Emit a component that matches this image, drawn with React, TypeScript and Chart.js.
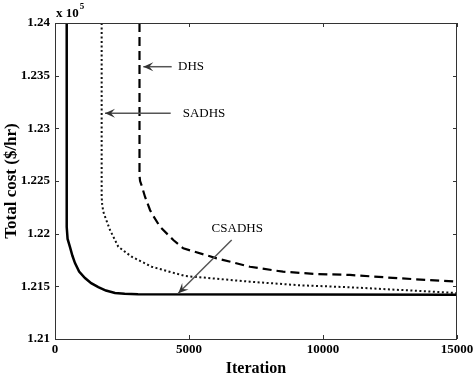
import React, { useEffect, useRef } from "react";
import { Chart, registerables } from "chart.js";
Chart.register(...registerables);

const FONT = "'Liberation Serif', 'DejaVu Serif', 'Times New Roman', serif";

// Iterations and total cost (x 10^5 $/hr)
const csadhsIter = [437, 437, 470, 560, 650, 746, 900, 1119, 1350, 1616, 1900, 2239, 2600, 3097, 15000];
const csadhsCost = [1.2400, 1.22063, 1.2195, 1.21873, 1.2179, 1.21721, 1.2164, 1.21579, 1.2153, 1.21493, 1.2146, 1.21437, 1.2143, 1.21424, 1.21420];

const sadhsIter = [1741, 1741, 1760, 1800, 1866, 2052, 2363, 2861, 3607, 4851, 5410, 7276, 9142, 11007, 15000];
const sadhsCost = [1.2400, 1.2235, 1.2228, 1.2221, 1.22161, 1.22035, 1.21876, 1.21781, 1.21686, 1.21598, 1.21586, 1.21544, 1.21510, 1.21491, 1.21437];

const dhsIter = [3153, 3153, 3175, 3235, 3358, 3545, 3608, 3918, 4414, 4787, 6034, 7276, 8507, 9765, 11007, 12873, 15000];
const dhsCost = [1.2400, 1.2255, 1.2250, 1.22455, 1.22351, 1.22225, 1.22193, 1.22066, 1.21940, 1.21861, 1.21766, 1.21686, 1.21639, 1.21617, 1.21608, 1.21576, 1.21544];

const xTicks = [0, 5000, 10000, 15000];
const yTicks = [1.21, 1.215, 1.22, 1.225, 1.23, 1.235, 1.24];

// annotations (data units)
const annLabels = ["DHS", "SADHS", "CSADHS"];
const annLabelIter = [4590, 4765, 5844];
const annLabelCost = [1.23585, 1.23143, 1.22051];
const annTailIter = [4354, 4317, 6593];
const annTailCost = [1.23585, 1.23143, 1.2194];
const annTipIter = [3295, 1866, 4601];
const annTipCost = [1.23585, 1.23143, 1.21434];

const toPts = (xs: number[], ys: number[]) => xs.map((x, i) => ({ x, y: ys[i] }));

const framePlugin = {
  id: "frame",
  afterDatasetsDraw(chart: any) {
    const { ctx, chartArea: a, scales } = chart;
    const xs = scales.x, ys = scales.y;
    ctx.save();
    ctx.strokeStyle = "#333";
    ctx.lineWidth = 1;
    ctx.strokeRect(a.left + 0.5, a.top + 0.5, a.right - a.left - 1, a.bottom - a.top);
    const tl = 4;
    ctx.beginPath();
    xTicks.forEach((v) => {
      const px = Math.round(xs.getPixelForValue(v)) + 0.5;
      ctx.moveTo(px, a.bottom); ctx.lineTo(px, a.bottom - tl);
      ctx.moveTo(px, a.top); ctx.lineTo(px, a.top + tl);
    });
    yTicks.forEach((v) => {
      const py = Math.round(ys.getPixelForValue(v)) + 0.5;
      ctx.moveTo(a.left, py); ctx.lineTo(a.left + tl, py);
      ctx.moveTo(a.right, py); ctx.lineTo(a.right - tl, py);
    });
    ctx.stroke();

    // exponent label
    ctx.fillStyle = "#000";
    ctx.font = `bold 13px ${FONT}`;
    ctx.textBaseline = "alphabetic";
    ctx.textAlign = "left";
    ctx.fillText("x 10", a.left + 1, a.top - 6);
    const w = ctx.measureText("x 10").width;
    ctx.font = `bold 9px ${FONT}`;
    ctx.fillText("5", a.left + 1 + w + 1, a.top - 14);

    // annotations
    ctx.font = `13px ${FONT}`;
    ctx.textBaseline = "middle";
    annLabels.forEach((lab, i) => {
      ctx.fillStyle = "#000";
      ctx.fillText(lab, xs.getPixelForValue(annLabelIter[i]), ys.getPixelForValue(annLabelCost[i]));
      const x1 = xs.getPixelForValue(annTailIter[i]), y1 = ys.getPixelForValue(annTailCost[i]);
      const x2 = xs.getPixelForValue(annTipIter[i]), y2 = ys.getPixelForValue(annTipCost[i]);
      ctx.strokeStyle = "#555";
      ctx.lineWidth = 1.5;
      ctx.beginPath(); ctx.moveTo(x1, y1); ctx.lineTo(x2, y2); ctx.stroke();
      const ang = Math.atan2(y2 - y1, x2 - x1);
      const L = 10, W = 4.5;
      const bx = x2 - L * Math.cos(ang), by = y2 - L * Math.sin(ang);
      const nx = -Math.sin(ang), ny = Math.cos(ang);
      const mx = x2 - 0.6 * L * Math.cos(ang), my = y2 - 0.6 * L * Math.sin(ang);
      ctx.fillStyle = "#333";
      ctx.beginPath();
      ctx.moveTo(x2, y2);
      ctx.lineTo(bx + nx * W, by + ny * W);
      ctx.lineTo(mx, my);
      ctx.lineTo(bx - nx * W, by - ny * W);
      ctx.closePath();
      ctx.fill();
    });
    ctx.restore();
  },
};

export default function App() {
  const ref = useRef<HTMLCanvasElement>(null);
  useEffect(() => {
    document.body.style.margin = "0";
    const chart = new Chart(ref.current!, {
      type: "line",
      data: {
        datasets: [
          { label: "CSADHS", data: toPts(csadhsIter, csadhsCost), borderColor: "#000", borderWidth: 2.5, pointRadius: 0, tension: 0 },
          { label: "SADHS", data: toPts(sadhsIter, sadhsCost), borderColor: "#111", borderWidth: 2, borderDash: [2, 2.5], pointRadius: 0, tension: 0 },
          { label: "DHS", data: toPts(dhsIter, dhsCost), borderColor: "#000", borderWidth: 2.2, borderDash: [9, 5], pointRadius: 0, tension: 0 },
        ],
      },
      options: {
        responsive: false,
        animation: false,
        events: [],
        layout: { padding: { left: 0, top: 23, right: 17, bottom: 0 } },
        plugins: { legend: { display: false }, tooltip: { enabled: false } },
        scales: {
          x: {
            type: "linear",
            min: 0,
            max: 15000,
            afterBuildTicks: (s: any) => { s.ticks = xTicks.map((v) => ({ value: v })); },
            afterFit: (s: any) => { s.height = 36; s.paddingLeft = 0; s.paddingRight = 0; },
            ticks: { color: "#000", font: { family: FONT, size: 13, weight: "bold" }, padding: 3, maxRotation: 0, autoSkip: false, callback: (v: any) => String(v) },
            grid: { display: false, drawTicks: false },
            border: { display: false },
            title: { display: true, text: "Iteration", color: "#000", font: { family: FONT, size: 16, weight: "bold" }, padding: { top: 0, bottom: -3 } },
          },
          y: {
            type: "linear",
            min: 1.21,
            max: 1.24,
            afterBuildTicks: (s: any) => { s.ticks = yTicks.map((v) => ({ value: v })); },
            afterFit: (s: any) => { s.width = 55; s.paddingTop = 0; s.paddingBottom = 0; },
            ticks: { color: "#000", font: { family: FONT, size: 13, weight: "bold" }, padding: 5, autoSkip: false, callback: (v: any) => String(Number(Number(v).toFixed(3))) },
            grid: { display: false, drawTicks: false },
            border: { display: false },
            title: { display: true, text: "Total cost ($/hr)", color: "#000", font: { family: FONT, size: 17, weight: "bold" }, padding: 1 },
          },
        },
      } as any,
      plugins: [framePlugin],
    });
    return () => chart.destroy();
  }, []);
  return (
    <div style={{ width: 474, height: 375 }}>
      <canvas ref={ref} width={474} height={375} style={{ display: "block" }} />
    </div>
  );
}
